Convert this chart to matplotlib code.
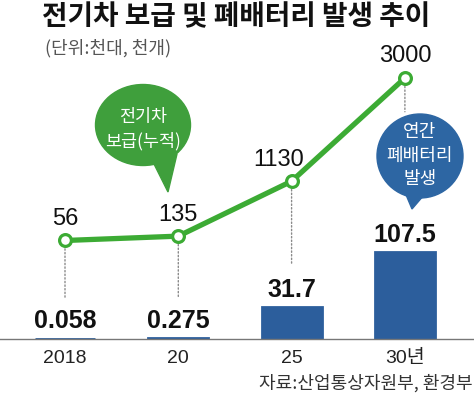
import numpy as np
import matplotlib
matplotlib.use('Agg')
import matplotlib.pyplot as plt
from matplotlib.patches import Ellipse, Polygon

# ---- data ----
years = ['2018', '20', '25', '30년']
ev_cumulative = [56, 135, 1130, 3000]
ev_labels = ['56', '135', '1130', '3000']
battery_annual = [0.058, 0.275, 31.7, 107.5]
battery_labels = ['0.058', '0.275', '31.7', '107.5']

title = '전기차 보급 및 폐배터리 발생 추이'
subtitle = '(단위:천대, 천개)'
source = '자료:산업통상자원부, 환경부'
bubble_green = ['전기차', '보급(누적)']
bubble_blue = ['연간', '폐배터리', '발생']

# ---- style ----
GREEN = '#3cab34'
GREEN_BUB = '#3f9f3c'
BLUE = '#2c5e9c'
BLUE_BUB = '#2d66a3'
KR = ['Noto Sans CJK KR', 'DejaVu Sans']
NUM = ['Liberation Sans Narrow', 'Liberation Sans', 'DejaVu Sans']
TICK = ['Liberation Sans', 'Noto Sans CJK KR']

W, H = 474, 399
fig = plt.figure(figsize=(W / 100, H / 100), dpi=100)
fig.patch.set_facecolor('white')


def fx(px):
    return px / W


def fy(py):
    return 1 - py / H


base_px = 339
ax = fig.add_axes([0, fy(base_px), 1, base_px / H])
x = np.arange(len(years))
sp, c0 = 113.3, 65
ax.set_xlim(-c0 / sp, (W - c0) / sp)

pw = 0.82
fwd = lambda y: np.sign(y) * np.abs(y) ** pw
inv = lambda y: np.sign(y) * np.abs(y) ** (1 / pw)
ax.set_yscale('function', functions=(fwd, inv))
ax.set_ylim(0, float(inv(fwd(max(battery_annual)) * base_px / 87)))

ax.bar(x, battery_annual, width=60 / sp, color=BLUE, edgecolor=BLUE,
       linewidth=2, zorder=2)
for i, (v, lbl) in enumerate(zip(battery_annual, battery_labels)):
    ax.annotate(lbl, (i, v), xytext=(0, 12.5), textcoords='offset points',
                ha='center', va='center', fontsize=18, fontweight='bold',
                family=NUM, color='#111')

for s in ['top', 'left', 'right']:
    ax.spines[s].set_visible(False)
ax.spines['bottom'].set_color('#777')
ax.spines['bottom'].set_linewidth(1)
ax.set_yticks([])
ax.set_xticks(x, years)
ax.tick_params(axis='x', length=0, pad=8, labelsize=14, labelcolor='#222')
for t in ax.get_xticklabels():
    t.set_fontfamily(TICK)
ax.patch.set_alpha(0)

# line axis (linear, independent)
ax2 = ax.twinx()
p1, p4 = 240.5, 78
s = (p1 - p4) / (ev_cumulative[-1] - ev_cumulative[0])
ax2.set_ylim(ev_cumulative[0] - (base_px - p1) / s, ev_cumulative[0] + p1 / s)
ax2.set_yticks([])
for sname in ax2.spines:
    ax2.spines[sname].set_visible(False)

ax2.plot(x, ev_cumulative, color=GREEN, lw=3.8, marker='o', ms=8.5,
         mfc='white', mec=GREEN, mew=2.3, zorder=5, solid_capstyle='butt')
dx = [0, 0, -9, 0]
for i, (v, lbl) in enumerate(zip(ev_cumulative, ev_labels)):
    ax2.annotate(lbl, (i, v), xytext=(dx[i], 15.5), textcoords='offset points',
                 ha='center', va='center', fontsize=17, family=NUM, color='#111')

shrink_end = [30, 29, 30, 101]
for i in range(len(years)):
    ax2.annotate('', xy=(i, battery_annual[i]), xycoords=ax.transData,
                 xytext=(i, ev_cumulative[i]), textcoords=ax2.transData,
                 arrowprops=dict(arrowstyle='-', color='#8a8a8a', lw=1,
                                 linestyle=(0, (1, 1.6)), shrinkA=6,
                                 shrinkB=shrink_end[i]), zorder=1)

# ---- speech bubbles ----
fig.patches.append(Ellipse((fx(143), fy(125)), 95 / W, 81 / H,
                           transform=fig.transFigure, color=GREEN_BUB, zorder=3))
fig.patches.append(Polygon([(fx(152), fy(160)), (fx(177), fy(154)), (fx(168), fy(192))],
                           closed=True, transform=fig.transFigure, color=GREEN_BUB, zorder=3))
for ty, t in zip([117, 141], bubble_green):
    fig.text(fx(143), fy(ty), t, ha='center', va='center', fontsize=12.5,
             family=KR, color='white', fontweight='medium', zorder=4)

fig.patches.append(Ellipse((fx(420), fy(156)), 86 / W, 84 / H,
                           transform=fig.transFigure, color=BLUE_BUB, zorder=3))
fig.patches.append(Polygon([(fx(404), fy(190)), (fx(430), fy(188)), (fx(412), fy(209))],
                           closed=True, transform=fig.transFigure, color=BLUE_BUB, zorder=3))
for ty, t in zip([132, 156, 179], bubble_blue):
    fig.text(fx(420), fy(ty), t, ha='center', va='center', fontsize=13,
             family=KR, color='white', fontweight='medium', zorder=4)

# ---- titles ----
fig.text(fx(236), fy(17), title, ha='center', va='center', fontsize=20,
         fontweight='bold', family=KR, color='#111')
fig.text(fx(45), fy(48), subtitle, ha='left', va='center', fontsize=13,
         family=KR, color='#555')
fig.text(fx(473), fy(383), source, ha='right', va='center', fontsize=13,
         family=KR, color='#333')

fig.savefig('out.png', dpi=100, facecolor='white')
